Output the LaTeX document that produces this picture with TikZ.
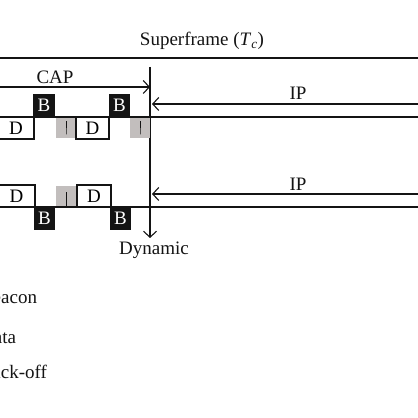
\documentclass[tikz,border=0pt]{standalone}
\usepackage{fontspec}
\setmainfont{Liberation Serif}
\usetikzlibrary{arrows.meta}
\definecolor{boff}{HTML}{C2BEBD}
\definecolor{blk}{HTML}{141414}
\begin{document}
\begin{tikzpicture}[x=1pt,y=1pt,
  every node/.style={font=\fontsize{19}{21}\selectfont, inner sep=0pt, outer sep=0pt},
  ln/.style={line width=1.2pt, draw=blk},
  arr/.style={line width=1.1pt, draw=blk, -{Straight Barb[length=6pt,width=13pt,line width=1.1pt]}},
  dbox/.style={draw=blk, line width=1.1pt, fill=white, anchor=center},
  bbox/.style={fill=blk, text=white, anchor=center},
  gbox/.style={fill=boff, anchor=center},
  lbl/.style={text=blk}]
\clip (0,0) rectangle (418,418);
\fill[white] (0,0) rectangle (418,418);

% title and top line
\node[lbl] (sf) at (202,377) {Superframe (\textit{T}\textsubscript{\textit{c}})};
\coordinate (tl) at (-5,360);
\coordinate (tr) at (425,360);
\draw[ln] (tl) -- (tr);

% CAP
\node[lbl] (cap) at (55,341) {CAP};
\coordinate (capl) at (-5,331);
\coordinate (vtop) at (150,351);
\coordinate (vbot) at (150,180);
\coordinate (capr) at (150,331);
\draw[arr] (capl) -- (capr);

% vertical divider with arrow
\draw[arr] (vtop) -- (vbot);
\node[lbl] (dyn) at (154,168) {Dynamic};

% timeline 1 boxes
\node[dbox, minimum width=36pt, minimum height=22pt] (d1) at (16,290) {D};
\node[bbox, minimum width=22pt, minimum height=23pt] (b1) at (44,312.5) {B};
\node[gbox, minimum width=20pt, minimum height=21pt] (g1) at (66,290.5) {};
\node[dbox, minimum width=33pt, minimum height=22pt] (d2) at (92.5,290) {D};
\node[bbox, minimum width=21pt, minimum height=23pt] (b2) at (119.5,312.5) {B};
\node[gbox, minimum width=20pt, minimum height=21pt] (g2) at (140,290.5) {};
\draw[line width=1pt, blk] ([yshift=-1pt]g1.center) -- ++(0,-6) -- ++(0,13);
\draw[line width=1pt, blk] ([xshift=0pt,yshift=-1pt]g2.center) -- ++(0,-6) -- ++(0,13);

% timeline 1
\coordinate (t1l) at (-5,301);
\coordinate (t1r) at (425,301);
\draw[ln] (t1l) -- (t1r);

% IP 1
\node[lbl] (ip1) at (298,325) {IP};
\coordinate (ip1r) at (425,314);
\coordinate (ip1l) at (152,314);
\draw[arr] (ip1r) -- (ip1l);

% timeline 2 boxes
\node[dbox, minimum width=37pt, minimum height=22pt] (d3) at (16.5,222) {D};
\node[bbox, minimum width=21pt, minimum height=23pt] (b3) at (44.5,199.5) {B};
\node[gbox, minimum width=21pt, minimum height=21pt] (g3) at (66.5,221.5) {};
\node[dbox, minimum width=34pt, minimum height=22pt] (d4) at (94,222) {D};
\node[bbox, minimum width=21pt, minimum height=23pt] (b4) at (120.5,199.5) {B};
\draw[line width=1pt, blk] (g3.south) -- ([yshift=-6pt]g3.north);

% timeline 2
\coordinate (t2l) at (-5,211);
\coordinate (t2r) at (425,211);
\draw[ln] (t2l) -- (t2r);

% IP 2
\node[lbl] (ip2) at (298,234) {IP};
\coordinate (ip2r) at (425,224);
\coordinate (ip2l) at (152,224);
\draw[arr] (ip2r) -- (ip2l);

% legend (cut off at left, as in the reference)
\node[lbl, anchor=east] (lb) at (37,121) {Beacon};
\node[lbl, anchor=east] (ld) at (16,81) {Data};
\node[lbl, anchor=east] (lk) at (47,46) {Back-off};
\end{tikzpicture}
\end{document}
